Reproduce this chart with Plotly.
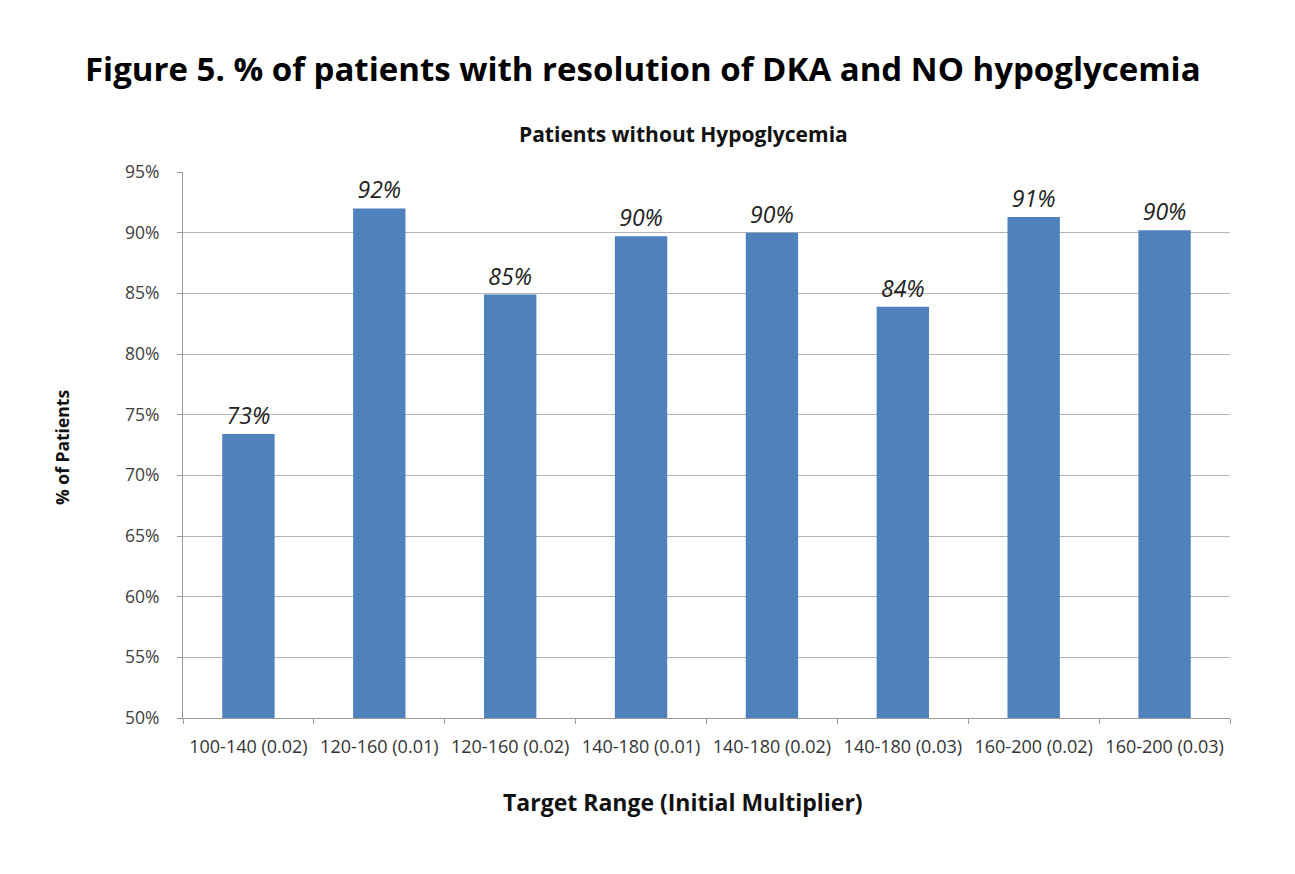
import plotly.graph_objects as go

categories = ["100-140 (0.02)", "120-160 (0.01)", "120-160 (0.02)", "140-180 (0.01)",
              "140-180 (0.02)", "140-180 (0.03)", "160-200 (0.02)", "160-200 (0.03)"]
values = [73.4, 92.0, 84.9, 89.7, 90.0, 83.9, 91.3, 90.2]

FONT = "Open Sans"
OFF = 8  # page body margin
W, H = 1295, 874
L, T = 183 - OFF, 172 - OFF
R = W - (1230 - OFF)
B = H - (718 - OFF)

fig = go.Figure()
fig.add_trace(go.Bar(
    x=categories, y=values,
    marker=dict(color="#4F81BD", line=dict(width=0)),
    texttemplate="%{y:.0f}%", textposition="outside",
    textfont=dict(family=FONT, size=23, color="#222222", style="italic"),
    cliponaxis=False,
))

fig.update_layout(
    width=W, height=H,
    margin=dict(l=L, r=R, t=T, b=B),
    paper_bgcolor="white", plot_bgcolor="white",
    bargap=0.6, showlegend=False,
    font=dict(family=FONT),
    xaxis=dict(
        showgrid=False, showline=True, linecolor="#999999", linewidth=1,
        ticks="outside", tickson="boundaries", ticklen=5, tickcolor="#999999",
        tickfont=dict(family=FONT, size=18, color="#333333"),
        ticklabelstandoff=12,
    ),
    yaxis=dict(
        range=[50, 95], dtick=5, ticksuffix="%",
        showgrid=True, gridcolor="#b4b4b4", gridwidth=1,
        showline=True, linecolor="#999999", linewidth=1,
        ticks="outside", ticklen=5, tickcolor="#999999",
        tickfont=dict(family=FONT, size=17.5, color="#404040"),
        ticklabelstandoff=14,
        zeroline=False,
    ),
)

ann = [
    ("<b>Figure 5. % of patients with resolution of DKA and NO hypoglycemia</b>", 643, 68, 33, "#000000", 0),
    ("<b>Patients without Hypoglycemia</b>", 683, 134, 21, "#111111", 0),
    ("<b>Target Range (Initial Multiplier)</b>", 683, 802, 23, "#111111", 0),
    ("<b>% of Patients</b>", 62, 448, 17.5, "#111111", -90),
]
pw, ph = W - L - R, H - T - B
for text, px, py, size, color, ang in ann:
    fig.add_annotation(
        text=text, textangle=ang,
        x=(px - OFF - L) / pw, y=1 - (py - OFF - T) / ph,
        xref="paper", yref="paper", xanchor="center", yanchor="middle",
        showarrow=False, font=dict(family=FONT, size=size, color=color),
    )

fig.write_html("out.html")
